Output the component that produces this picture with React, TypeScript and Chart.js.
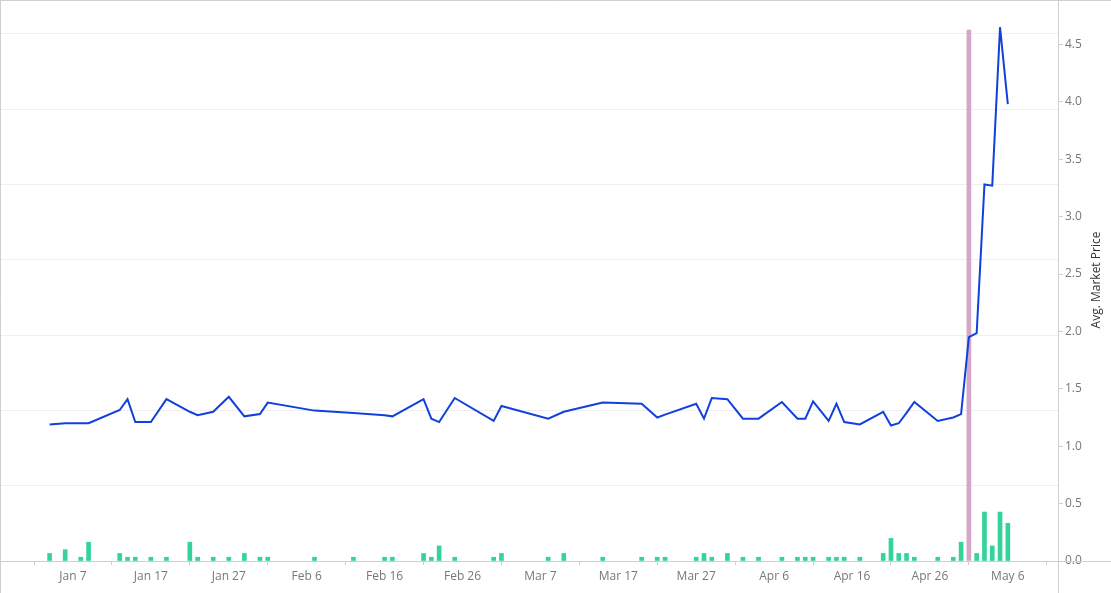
import React, { useEffect, useRef } from "react";
import { Chart, registerables } from "chart.js";

Chart.register(...registerables);

// Day-of-year (2024) for each price observation
const priceDays = [4, 6, 8, 9, 13, 14, 15, 17, 19, 22, 23, 25, 27, 29, 31, 32, 38, 43, 47, 48, 52, 53, 54, 56, 61, 62, 68, 70, 75, 80, 82, 83, 87, 88, 89, 91, 93, 95, 98, 100, 101, 102, 104, 105, 106, 108, 111, 112, 113, 114, 115, 118, 120, 121, 122, 123, 124, 125, 126, 127];
const avgPrice = [1.19, 1.2, 1.2, 1.2, 1.315, 1.41, 1.21, 1.21, 1.41, 1.3, 1.27, 1.3, 1.43, 1.26, 1.28, 1.38, 1.31, 1.29, 1.27, 1.26, 1.41, 1.24, 1.21, 1.42, 1.22, 1.35, 1.24, 1.3, 1.38, 1.37, 1.25, 1.275, 1.37, 1.24, 1.42, 1.41, 1.24, 1.24, 1.385, 1.24, 1.24, 1.39, 1.22, 1.37, 1.21, 1.19, 1.3, 1.18, 1.2, 1.29, 1.385, 1.22, 1.25, 1.28, 1.95, 1.985, 3.28, 3.27, 4.65, 3.98];

// Day-of-year for each volume bar
const volumeDays = [4, 6, 8, 9, 13, 14, 15, 17, 19, 22, 23, 25, 27, 29, 31, 32, 38, 43, 47, 48, 52, 53, 54, 56, 61, 62, 68, 70, 75, 80, 82, 83, 87, 88, 89, 91, 93, 95, 98, 100, 101, 102, 104, 105, 106, 108, 111, 112, 113, 114, 115, 118, 120, 121, 123, 124, 125, 126, 127];
const volumes = [2, 3, 1, 5, 2, 1, 1, 1, 1, 5, 1, 1, 1, 2, 1, 1, 1, 1, 1, 1, 2, 1, 4, 1, 1, 2, 1, 2, 1, 1, 1, 1, 1, 2, 1, 2, 1, 1, 1, 1, 1, 1, 1, 1, 1, 1, 2, 6, 2, 2, 1, 1, 1, 5, 2, 13, 4, 13, 10];

// Highlighted spike
const spikeDays = [122];
const spikeVolumes = [141];

// Axis ticks
const xTickDays = [7, 17, 27, 37, 47, 57, 67, 77, 87, 97, 107, 117, 127];
const xTickLabels = ["Jan 7", "Jan 17", "Jan 27", "Feb 6", "Feb 16", "Feb 26", "Mar 7", "Mar 17", "Mar 27", "Apr 6", "Apr 16", "Apr 26", "May 6"];
const priceTicks = [0, 0.5, 1, 1.5, 2, 2.5, 3, 3.5, 4, 4.5];
const volumeGridTicks = [0, 20, 40, 60, 80, 100, 120, 140];

const AXIS_COLOR = "#cfcfcf";
const GRID_COLOR = "#efefef";
const TICK_COLOR = "#777777";
const FONT = "'Open Sans', 'Noto Sans', sans-serif";

const framePlugin = {
  id: "frame",
  afterDraw(chart: any) {
    const ctx = chart.ctx;
    const { width, height, chartArea } = chart;
    ctx.save();
    ctx.strokeStyle = AXIS_COLOR;
    ctx.lineWidth = 1;
    ctx.beginPath();
    ctx.moveTo(0, 0.5);
    ctx.lineTo(width, 0.5);
    ctx.moveTo(0.5, 0);
    ctx.lineTo(0.5, height);
    ctx.moveTo(0, Math.round(chartArea.bottom) + 0.5);
    ctx.lineTo(width, Math.round(chartArea.bottom) + 0.5);
    ctx.moveTo(Math.round(chartArea.right) + 0.5, 0);
    ctx.lineTo(Math.round(chartArea.right) + 0.5, height);
    ctx.stroke();

    ctx.translate(1097, 280);
    ctx.rotate(-Math.PI / 2);
    ctx.fillStyle = "#333333";
    ctx.font = `12px ${FONT}`;
    ctx.textAlign = "center";
    ctx.textBaseline = "middle";
    ctx.fillText("Avg. Market Price", 0, 0);
    ctx.restore();
  },
};

export default function App() {
  const ref = useRef<HTMLCanvasElement | null>(null);

  useEffect(() => {
    document.body.style.margin = "0";
    const canvas = ref.current;
    if (!canvas) return;

    const chart = new Chart(canvas, {
      type: "bar",
      data: {
        datasets: [
          {
            type: "line",
            label: "Avg. Market Price",
            data: priceDays.map((d, i) => ({ x: d, y: avgPrice[i] })),
            borderColor: "#1240dd",
            borderWidth: 2,
            pointRadius: 0,
            tension: 0,
            fill: false,
            yAxisID: "yPrice",
            xAxisID: "x",
            order: 0,
          } as any,
          {
            type: "bar",
            label: "Volume",
            data: volumeDays.map((d, i) => ({ x: d, y: volumes[i] })),
            backgroundColor: "#34d399",
            barThickness: 4,
            grouped: false,
            yAxisID: "yVol",
            xAxisID: "x",
            order: 1,
          } as any,
          {
            type: "bar",
            label: "Spike",
            data: spikeDays.map((d, i) => ({ x: d, y: spikeVolumes[i] })),
            backgroundColor: "#d4a6c8",
            barThickness: 4,
            grouped: false,
            yAxisID: "yVol",
            xAxisID: "x",
            order: 2,
          } as any,
        ],
      },
      options: {
        responsive: false,
        animation: false,
        devicePixelRatio: 1,
        layout: { padding: 0 },
        plugins: {
          legend: { display: false },
          tooltip: { enabled: false },
        },
        scales: {
          x: {
            type: "linear",
            position: "bottom",
            min: -2.24,
            max: 133.44,
            offset: false,
            border: { display: false },
            grid: {
              drawOnChartArea: false,
              drawTicks: true,
              tickLength: 4,
              color: AXIS_COLOR,
            },
            ticks: {
              color: TICK_COLOR,
              font: { size: 12, family: FONT },
              padding: 4,
              maxRotation: 0,
              autoSkip: false,
              callback: (_v: any, i: number) => xTickLabels[i],
            },
            afterBuildTicks: (scale: any) => {
              scale.ticks = xTickDays.map((v) => ({ value: v }));
            },
            afterFit: (scale: any) => {
              scale.height = 32;
              scale.paddingLeft = 0;
              scale.paddingRight = 0;
            },
          },
          yVol: {
            type: "linear",
            position: "left",
            min: 0,
            max: 149,
            border: { display: false },
            grid: {
              drawTicks: false,
              color: (c: any) => (c.tick && c.tick.value > 0 ? GRID_COLOR : "transparent"),
            },
            ticks: { display: false },
            afterBuildTicks: (scale: any) => {
              scale.ticks = volumeGridTicks.map((v) => ({ value: v }));
            },
            afterFit: (scale: any) => {
              scale.width = 1;
              scale.paddingTop = 0;
              scale.paddingBottom = 0;
            },
          },
          yPrice: {
            type: "linear",
            position: "right",
            min: 0,
            max: 4.887,
            border: { display: false },
            grid: {
              drawOnChartArea: false,
              drawTicks: true,
              tickLength: 5,
              color: AXIS_COLOR,
            },
            ticks: {
              color: TICK_COLOR,
              font: { size: 12, family: FONT },
              padding: 2,
              callback: (v: any) => Number(v).toFixed(1),
            },
            afterBuildTicks: (scale: any) => {
              scale.ticks = priceTicks.map((v) => ({ value: v }));
            },
            afterFit: (scale: any) => {
              scale.width = 53;
              scale.paddingTop = 0;
              scale.paddingBottom = 0;
            },
          },
        },
      },
      plugins: [framePlugin],
    });

    return () => chart.destroy();
  }, []);

  return <canvas ref={ref} width={1111} height={593} style={{ display: "block" }} />;
}
